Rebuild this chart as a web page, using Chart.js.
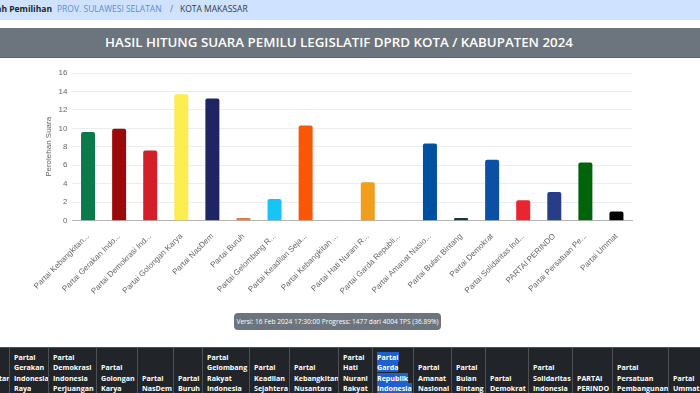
<!DOCTYPE html>
<html lang="id">
<head>
    <meta charset="utf-8" />
    <title>Hasil Hitung Suara</title>
    <script src="https://cdn.jsdelivr.net/npm/chart.js@4.4.1/dist/chart.umd.min.js"></script>
    <style>
        body {
            margin: 0;
            width: 700px;
            height: 393px;
            overflow: hidden;
            background: #fff;
            font-family: "Open Sans", "Noto Sans", sans-serif;
            position: relative;
        }

        /* breadcrumb strip */
        .crumbs {
            position: absolute;
            left: 0; top: 0;
            width: 700px; height: 20px;
            background: #cfe2ff;
            font-size: 8.5px;
            line-height: 18px;
            white-space: nowrap;
        }
        .crumbs b { color: #212529; position: absolute; right: 648px; }
        .crumbs .lnk { color: #5a8fd6; position: absolute; left: 57px; }
        .crumbs .sep { color: #6c757d; position: absolute; left: 170px; }
        .crumbs .cur { color: #343a40; position: absolute; left: 180px; }

        .title-bar {
            position: absolute;
            left: 0; top: 28px;
            width: 700px; height: 29px;
            background: #6c757d;
            border-bottom: 1px solid #5a6168;
        }
        .title-bar h1 {
            margin: 0;
            width: 678px;
            text-align: center;
            color: #fff;
            font-size: 13.3px;
            font-weight: 600;
            line-height: 28px;
        }

        #chart {
            position: absolute;
            left: 0; top: 60px;
        }

        .versi {
            position: absolute;
            left: 234px; top: 313px;
            width: 207px; height: 17px;
            background: #6c757d;
            border-radius: 4px;
            color: #fff;
            font-size: 6.6px;
            line-height: 17px;
            text-align: center;
            white-space: nowrap;
        }

        table.hdr {
            position: absolute;
            left: -39px; top: 347px;
            border-collapse: collapse;
            table-layout: fixed;
            background: #212529;
        }
        table.hdr th {
            color: #fff;
            font-size: 7.1px;
            font-weight: 700;
            line-height: 10.3px;
            text-align: left;
            vertical-align: bottom;
            padding: 4px 1px 5px 4px;
            border-left: 1px solid #4d5154;
            border-top: 1px solid #4d5154;
            overflow: hidden;
            white-space: nowrap;
        }
        table.hdr th:first-child { text-indent: -5px; }
        table.hdr th .sel { background: #1f5fcf; }
    </style>
</head>

<body>
    <div class="crumbs">
        <b>Wilayah Pemilihan</b>
        <span class="lnk">PROV. SULAWESI SELATAN</span>
        <span class="sep">/</span>
        <span class="cur">KOTA MAKASSAR</span>
    </div>

    <div class="title-bar">
        <h1>HASIL HITUNG SUARA PEMILU LEGISLATIF DPRD KOTA / KABUPATEN 2024</h1>
    </div>

    <canvas id="chart" width="700" height="240"></canvas>

    <div class="versi">Versi: 16 Feb 2024 17:30:00 Progress: 1477 dari 4004 TPS (36.89%)</div>

    <table class="hdr" id="hdr"></table>

    <script>
        // party names as shown on the x axis (already truncated on the site)
        const partyLabels = [
            'Partai Kebangkitan...', 'Partai Gerakan Indo...', 'Partai Demokrasi Ind...',
            'Partai Golongan Karya', 'Partai NasDem', 'Partai Buruh',
            'Partai Gelombang R...', 'Partai Keadilan Seja...', 'Partai Kebangkitan ...',
            'Partai Hati Nurani R...', 'Partai Garda Republi...', 'Partai Amanat Nasio...',
            'Partai Bulan Bintang', 'Partai Demokrat', 'Partai Solidaritas Ind...',
            'PARTAI PERINDO', 'Partai Persatuan Pe...', 'Partai Ummat'
        ];

        // vote share
        const voteShare = [9.6, 9.95, 7.6, 13.7, 13.25, 0.3, 2.35, 10.3, 0, 4.15, 0, 8.35, 0.3, 6.6, 2.2, 3.1, 6.3, 1.0];

        const partyColors = [
            '#0b7a4b', '#9b0a0a', '#d2202a', '#fdee4f', '#1f2563', '#e37b3b',
            '#18c3f5', '#fb5607', '#b0282d', '#f09e1b', '#c4a000', '#0050a0',
            '#17392a', '#0a50a5', '#ea2530', '#273e87', '#00640a', '#000000'
        ];

        const yTicks = [0, 2, 4, 6, 8, 10, 12, 14, 16];

        // full names for the table header row (first one is cut off by the screen edge)
        const tableNames = [
            'Partai Kebangkitan Bangsa', 'Partai Gerakan Indonesia Raya', 'Partai Demokrasi Indonesia Perjuangan',
            'Partai Golongan Karya', 'Partai NasDem', 'Partai Buruh', 'Partai Gelombang Rakyat Indonesia',
            'Partai Keadilan Sejahtera', 'Partai Kebangkitan Nusantara', 'Partai Hati Nurani Rakyat',
            'Partai Garda Republik Indonesia', 'Partai Amanat Nasional', 'Partai Bulan Bintang',
            'Partai Demokrat', 'Partai Solidaritas Indonesia', 'PARTAI PERINDO',
            'Partai Persatuan Pembangunan', 'Partai Ummat'
        ];
        const colWidths = [48, 39, 48, 41, 36, 29, 47, 40, 49, 34, 41, 38, 34, 43, 44, 40, 56, 40];

        // build the header table
        const tbl = document.getElementById('hdr');
        let html = '<colgroup>';
        colWidths.forEach(w => { html += '<col style="width:' + w + 'px">'; });
        html += '</colgroup><tr>';
        tableNames.forEach((n, i) => {
            const words = n.split(' ').join('<br>');
            html += '<th>' + (i === 10 ? '<span class="sel">' + words + '</span>' : words) + '</th>';
        });
        html += '</tr>';
        tbl.innerHTML = html;
        tbl.style.width = colWidths.reduce((a, b) => a + b, 0) + 'px';

        const ctx = document.getElementById('chart').getContext('2d');
        new Chart(ctx, {
            type: 'bar',
            data: {
                labels: partyLabels,
                datasets: [{
                    data: voteShare,
                    backgroundColor: partyColors,
                    borderRadius: 2,
                    borderSkipped: 'bottom',
                    barPercentage: 0.5,
                    categoryPercentage: 0.9
                }]
            },
            options: {
                responsive: false,
                animation: false,
                devicePixelRatio: 1,
                layout: { padding: { left: 44, right: 68, top: 13, bottom: 1 } },
                plugins: {
                    legend: { display: false },
                    tooltip: { enabled: false }
                },
                scales: {
                    x: {
                        grid: { display: false },
                        border: { color: '#b5b5b5' },
                        ticks: {
                            autoSkip: false,
                            maxRotation: 45,
                            minRotation: 45,
                            color: '#666',
                            font: { family: 'Liberation Sans, Arial', size: 8 }
                        }
                    },
                    y: {
                        min: 0,
                        max: 16,
                        afterBuildTicks: s => { s.ticks = yTicks.map(v => ({ value: v })); },
                        grid: { color: '#ececec', drawTicks: false },
                        border: { display: false },
                        ticks: {
                            padding: 5,
                            color: '#666',
                            font: { family: 'Liberation Sans, Arial', size: 8 }
                        },
                        title: {
                            display: true,
                            text: 'Perolehan Suara',
                            color: '#666',
                            padding: 0,
                            font: { family: 'Liberation Sans, Arial', size: 8 }
                        }
                    }
                }
            }
        });
    </script>
</body>
</html>
